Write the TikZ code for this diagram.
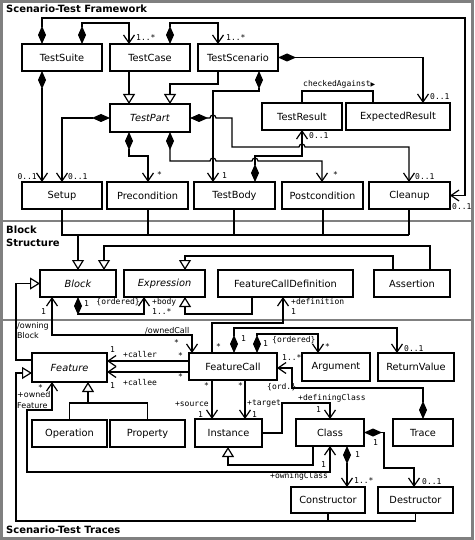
\documentclass[tikz,border=0pt]{standalone}
\usepackage{fontspec}
\setmainfont{DejaVu Sans}
\newfontfamily\monof{DejaVu Sans Mono}
\usetikzlibrary{arrows.meta}
\tikzset{
  box/.style={draw, line width=1.4pt, inner sep=0pt, outer sep=0pt, fill=white, font=\fontsize{9.8}{11}\selectfont},
  conn/.style={line width=1.2pt},
  gen/.style={conn, -{Triangle[open, length=10pt, width=12pt]}},
  nav/.style={conn, -{Straight Barb[length=8pt, width=11pt]}},
  biv/.style={conn, {Straight Barb[length=8pt, width=11pt]}-{Straight Barb[length=8pt, width=11pt]}},
  comp/.style={conn, {Diamond[length=18pt, width=8pt]}-{Straight Barb[length=8pt, width=11pt]}},
  ml/.style={font=\monof\fontsize{8}{9}\selectfont, inner sep=0pt, anchor=west},
  sl/.style={font=\fontsize{8}{9}\selectfont, inner sep=0pt, anchor=west},
  ttl/.style={font=\bfseries\fontsize{10}{12}\selectfont, inner sep=0pt, anchor=west},
  frame/.style={draw=gray, line width=3pt},
  sepline/.style={draw=gray, line width=2pt},
  hop/.style={},
}
\newcommand\umlbox[6]{\node[box, minimum width=#4pt-#2pt, minimum height=#5pt-#3pt] (#1) at ({(#2+#4)/2},{(#3+#5)/2}) {#6};}
\begin{document}
\begin{tikzpicture}[x=1pt,y=-1pt]
\useasboundingbox (0,0) rectangle (474,540);
\fill[white] (0,0) rectangle (474,540);
\draw[frame] (1.5,1.5) rectangle (472.5,538.5);
\draw[sepline] (0,221) -- (474,221);
\draw[sepline] (0,320) -- (474,320);
% titles
\node[ttl] (ttl1) at (6,9) {Scenario-Test Framework};
\node[ttl] (ttl2) at (6,230) {Block};
\node[ttl] (ttl3) at (6,243) {Structure};
\node[ttl] (ttl4) at (6,530) {Scenario-Test Traces};
% boxes
\umlbox{TestSuite}{22}{44}{102}{71}{TestSuite}
\umlbox{TestCase}{110}{44}{190}{71}{TestCase}
\umlbox{TestScenario}{198}{44}{278}{71}{TestScenario}
\umlbox{TestPart}{110}{104}{190}{132}{\itshape TestPart}
\umlbox{TestResult}{262}{103}{342}{130}{TestResult}
\umlbox{ExpectedResult}{346}{103}{450}{130}{ExpectedResult}
\umlbox{Setup}{22}{182}{102}{209}{Setup}
\umlbox{Precondition}{107}{182}{188}{209}{Precondition}
\umlbox{TestBody}{194}{182}{275}{209}{TestBody}
\umlbox{Postcondition}{282}{182}{363}{209}{Postcondition}
\umlbox{Cleanup}{369}{182}{450}{209}{Cleanup}
\umlbox{Block}{40}{270}{116}{297}{\itshape Block}
\umlbox{Expression}{124}{270}{205}{297}{\itshape Expression}
\umlbox{FeatureCallDefinition}{218}{270}{353}{297}{FeatureCallDefinition}
\umlbox{Assertion}{374}{270}{450}{297}{Assertion}
\umlbox{Feature}{32}{353}{107}{382}{\itshape Feature}
\umlbox{FeatureCall}{189}{353}{277}{380}{FeatureCall}
\umlbox{Argument}{302}{353}{370}{381}{Argument}
\umlbox{ReturnValue}{378}{353}{454}{381}{ReturnValue}
\umlbox{Operation}{32}{420}{107}{447}{Operation}
\umlbox{Property}{110}{420}{185}{447}{Property}
\umlbox{Instance}{195}{419}{262}{447}{Instance}
\umlbox{Class}{296}{419}{364}{446}{Class}
\umlbox{Trace}{393}{419}{453}{446}{Trace}
\umlbox{Constructor}{291}{487}{365}{513}{Constructor}
\umlbox{Destructor}{378}{487}{453}{513}{Destructor}
% ---- Scenario-Test Framework connectors
\draw[comp] ([xshift=20pt]TestSuite.north west) -- (42,18) -- (465,18) |- (Cleanup.east);
\draw[comp] ([xshift=60pt]TestSuite.north west) -- (82,23) -| ([xshift=19pt]TestCase.north west);
\draw[comp] ([xshift=60pt]TestCase.north west) -- (170,23) -| ([xshift=20pt]TestScenario.north west);
\draw[gen] ([xshift=19pt]TestCase.south west) -- ([xshift=19pt]TestPart.north west);
\draw[gen] ([xshift=20pt]TestScenario.south west) -- (218,84) -| ([xshift=60pt]TestPart.north west);
\draw[comp] (TestScenario.east) -| ([xshift=77pt]ExpectedResult.north west);
\draw[comp] ([xshift=61pt]TestScenario.south west) -- (259,91) -| ([xshift=19pt]TestBody.north west);
\draw[conn] ([xshift=40pt]TestResult.north west) -- (302,91) -| ([xshift=27pt]ExpectedResult.north west);
\draw[comp] ([xshift=20pt]TestSuite.south west) -- ([xshift=20pt]Setup.north west);
\draw[comp] (TestPart.west) -| ([xshift=40pt]Setup.north west);
\draw[comp] ([xshift=19pt]TestPart.south west) -- (129,156) -| ([xshift=41pt]Precondition.north west);
\draw[comp] ([xshift=60pt]TestPart.south west) -- (170,161) -- (210,161) arc[start angle=180, end angle=360, radius=3] -- (252,161) arc[start angle=180, end angle=360, radius=3] -| ([xshift=40pt]Postcondition.north west);
\draw[comp] (TestPart.east) -- (210,118) arc[start angle=180, end angle=360, radius=3] -- (232,118) -- (232,147) -- (299,147) arc[start angle=180, end angle=360, radius=3] -| ([xshift=40pt]Cleanup.north west);
\draw[comp] ([xshift=61pt]TestBody.north west) -- (255,156) -| ([xshift=40pt]TestResult.south west);
% ---- Block Structure connectors
\coordinate (j1) at (78,235);
\draw[conn] ([xshift=40pt]Setup.south west) -- (62,235) -- (409,235);
\draw[conn] ([xshift=41pt]Precondition.south west) -- (148,235);
\draw[conn] ([xshift=40pt]TestBody.south west) -- (234,235);
\draw[conn] ([xshift=41pt]Postcondition.south west) -- (323,235);
\draw[conn] ([xshift=40pt]Cleanup.south west) -- (409,235);
\draw[gen] (j1) -- ([xshift=38pt]Block.north west);
\draw[gen] ([xshift=56pt]Assertion.north west) -- (430,246) -| ([xshift=64pt]Block.north west);
\draw[gen] ([xshift=19pt]Assertion.north west) -- (393,256) -| ([xshift=61pt]Expression.north west);
\draw[gen] ([xshift=34pt]FeatureCallDefinition.south west) -- (252,314) -| ([xshift=61pt]Expression.south west);
\draw[comp] ([xshift=38pt]Block.south west) -- (78,314) -| ([xshift=20pt]Expression.south west);
\draw[nav] ([xshift=23pt]FeatureCall.north west) -- (212,323) -| ([xshift=65pt]FeatureCallDefinition.south west);
\draw[biv] ([xshift=12pt]Block.south west) -- (52,335) -| ([xshift=3pt]FeatureCall.north west);
% ---- Scenario-Test Traces connectors
\draw[gen] ([yshift=7.5pt]Feature.west) -- (16,360) |- (Block.west);
\draw[nav] ([yshift=5.5pt]FeatureCall.west) -- ([yshift=5.5pt]Feature.east |- FeatureCall.west);
\draw[nav] ([yshift=-5.5pt]FeatureCall.west) -- ([yshift=-5.5pt]Feature.east |- FeatureCall.west);
\coordinate (j2) at (88,403);
\draw[conn] (Operation.north) -- (69.5,403) -- (147.5,403) -- (Property.north);
\draw[gen] (j2) -- ([xshift=56pt]Feature.south west);
\draw[biv] ([xshift=20pt]Feature.south west) -- (52,410) -- (27,410) -- (27,472) -| ([xshift=34pt]Class.south west);
\draw[gen] ([xshift=17pt]Class.south west) -- (313,465) -| ([xshift=33pt]Instance.south west);
\draw[nav] (Instance.east) -- (282,433) -- (282,403) -| ([xshift=34pt]Class.north west);
\draw[nav] ([xshift=23pt]FeatureCall.south west) -- ([xshift=23pt]FeatureCall.south west |- Instance.north);
\draw[nav] ([xshift=56pt]FeatureCall.south west) -- ([xshift=56pt]FeatureCall.south west |- Instance.north);
\draw[comp] ([xshift=45pt]FeatureCall.north west) -- (234,328) -| ([xshift=19pt]ReturnValue.north west);
\draw[comp] ([xshift=68pt]FeatureCall.north west) -- (257,334) -| ([xshift=16pt]Argument.north west);
\draw[comp] ([xshift=30pt]Trace.north west) -- (423,388) -- (292,388) |- ([yshift=-1.5pt]FeatureCall.east);
\draw[comp] (Class.east) -- (384,432.5) -- (384,468) -| ([xshift=36pt]Destructor.north west);
\draw[comp] ([xshift=51pt]Class.south west) -- ([xshift=51pt]Class.south west |- Constructor.north);
\draw[conn] (Constructor.south) -- (328,521);
\draw[gen] (Destructor.south) -- (415.5,521) -- (16,521) |- ([yshift=-5.5pt]Feature.west);
% ---- labels top
\node[ml] (m1) at (136,38) {1..*};
\node[ml] (m2) at (226,38) {1..*};
\node[ml] (m3) at (430,97) {0..1};
\node[ml] (m4) at (303,84) {checkedAgainst{\rmfamily\fontsize{6}{6}\selectfont ▶}};
\node[ml] (m5) at (309,136) {0..1};
\node[ml, anchor=east] (m6) at (37,177) {0..1};
\node[ml] (m7) at (68,177) {0..1};
\node[ml] (m8) at (157,175) {*};
\node[ml] (m9) at (222,176) {1};
\node[ml] (m10) at (333,175) {*};
\node[ml] (m11) at (415,177) {0..1};
\node[ml] (m12) at (452,207) {0..1};
% labels block
\node[ml] (b1) at (84,304) {1};
\node[ml, anchor=east] (b2) at (140,302) {\{ordered\}};
\node[ml] (b3) at (152,302) {+body};
\node[ml] (b4) at (152,312) {1..*};
\node[ml] (b5) at (41,312) {1};
\node[ml] (b6) at (291,302) {+definition};
\node[ml] (b7) at (291,312) {1};
% labels traces
\node[sl] (t1) at (17,326) {/owning};
\node[sl] (t2) at (17,336) {Block};
\node[sl] (t3) at (145,331) {/ownedCall};
\node[ml] (t4) at (174,343) {*};
\node[ml] (t5) at (216,347) {*};
\node[ml] (t6) at (241,339) {1};
\node[ml] (t7) at (263,344) {1};
\node[ml] (t8) at (272,340) {\{ordered\}};
\node[ml] (t9) at (325,347) {*};
\node[ml] (t10) at (404,349) {0..1};
\node[ml] (t11) at (282,358) {1..*};
\node[ml] (t12) at (267,387) {\{ord.\}};
\node[ml] (t13) at (110,350) {1};
\node[ml] (t14) at (123,354) {+caller};
\node[ml] (t15) at (178,356) {*};
\node[ml] (t16) at (110,386) {1};
\node[ml] (t17) at (123,382) {+callee};
\node[ml] (t18) at (178,377) {*};
\node[ml] (t19) at (204,386) {*};
\node[ml] (t20) at (238,386) {*};
\node[ml, anchor=east] (t21) at (209,404) {+source};
\node[ml] (t22) at (198,415) {1};
\node[ml] (t23) at (247,404) {+target};
\node[ml] (t24) at (252,415) {1};
\node[ml] (t25) at (298,398) {+definingClass};
\node[ml] (t26) at (316,410) {1};
\node[ml] (t27) at (38,388) {*};
\node[sl] (t28) at (17,395) {+owned};
\node[sl] (t29) at (17,406) {Feature};
\node[ml] (t30) at (373,443) {1};
\node[ml] (t31) at (355,455) {1};
\node[ml] (t32) at (354,481) {1..*};
\node[ml] (t33) at (422,482) {0..1};
\node[ml] (t34) at (321,465) {1};
\node[ml] (t35) at (270,476) {+owningClass};
\end{tikzpicture}
\end{document}
